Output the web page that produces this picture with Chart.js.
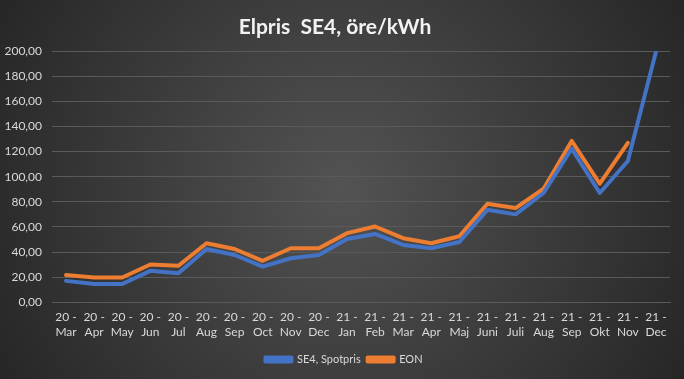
<!DOCTYPE html>
<html><head><meta charset="utf-8">
<script src="https://cdn.jsdelivr.net/npm/chart.js@4.4.0/dist/chart.umd.min.js"></script>
<style>html,body{margin:0;padding:0;background:#262626;}#wrap{width:684px;height:379px;position:relative;}</style>
</head><body><div id="wrap"><canvas id="c" width="684" height="379"></canvas></div>
<script>
const years = ["20 -","20 -","20 -","20 -","20 -","20 -","20 -","20 -","20 -","20 -","21 -","21 -","21 -","21 -","21 -","21 -","21 -","21 -","21 -","21 -","21 -","21 -"];
const months = ["Mar","Apr","May","Jun","Jul","Aug","Sep","Oct","Nov","Dec","Jan","Feb","Mar","Apr","Maj","Juni","Juli","Aug","Sep","Okt","Nov","Dec"];
const se4 = [17,14.5,14.5,25,23,42.4,37.6,28.3,35,37.6,50.4,54.4,45.6,43,48,73.6,70,87,122.4,87,112.5,199.5];
const eon = [21.6,19.7,19.7,30,29,47,42.4,33,43,43,55,60.3,51,47,52.5,78.4,75,90.4,128.5,94.4,127,null];
const yTicks = [0,20,40,60,80,100,120,140,160,180,200];
const labels = years.map((y,i)=>[y, months[i]]);

const bgPlugin = {
  id:'bg',
  beforeDraw(chart){
    const {ctx,width,height} = chart;
    const g = ctx.createRadialGradient(width/2,height/2,0,width/2,height/2,width*0.6);
    g.addColorStop(0,'#535353');
    g.addColorStop(1,'#242424');
    ctx.save();ctx.fillStyle=g;ctx.fillRect(0,0,width,height);ctx.restore();
  },
  afterLayout(chart){
    if(chart.legend){chart.legend.left+=9;chart.legend.right+=9;}
  }
};
const fmt = v => v.toFixed(2).replace('.',',');
new Chart(document.getElementById('c'),{
  type:'line',
  data:{labels,datasets:[
    {label:'SE4, Spotpris',data:se4,borderColor:'#4472C4',backgroundColor:'#4472C4',borderWidth:4,pointRadius:0,tension:0,borderJoinStyle:'round',borderCapStyle:'round'},
    {label:'EON',data:eon,borderColor:'#ED7D31',backgroundColor:'#ED7D31',borderWidth:4,pointRadius:0,tension:0,borderJoinStyle:'round',borderCapStyle:'round'}
  ]},
  options:{
    responsive:false,animation:false,
    layout:{padding:{left:0,right:14,top:11,bottom:4}},
    plugins:{
      title:{display:true,text:'Elpris  SE4, öre/kWh',color:'#f2f2f2',font:{family:'Lato',size:21,weight:'bold'},padding:{top:4,bottom:11}},
      legend:{position:'bottom',labels:{color:'#d9d9d9',font:{family:'Lato',size:11},boxWidth:26,boxHeight:4,padding:7},onClick:null},
      tooltip:{enabled:false}
    },
    scales:{
      x:{offset:true,grid:{display:false,drawTicks:false},border:{color:'#5a5a5a'},
         ticks:{color:'#d9d9d9',font:{family:'Lato',size:12},maxRotation:0,autoSkip:false,padding:8}},
      y:{min:0,max:200,afterFit(s){s.width=52;},
         afterBuildTicks(s){s.ticks=yTicks.map(v=>({value:v}));},
         grid:{color:'#5a5a5a',drawTicks:false},border:{display:false},
         ticks:{color:'#d9d9d9',font:{family:'Lato',size:12},padding:10,callback:v=>fmt(v)}}
    }
  },
  plugins:[bgPlugin]
});
</script></body></html>
